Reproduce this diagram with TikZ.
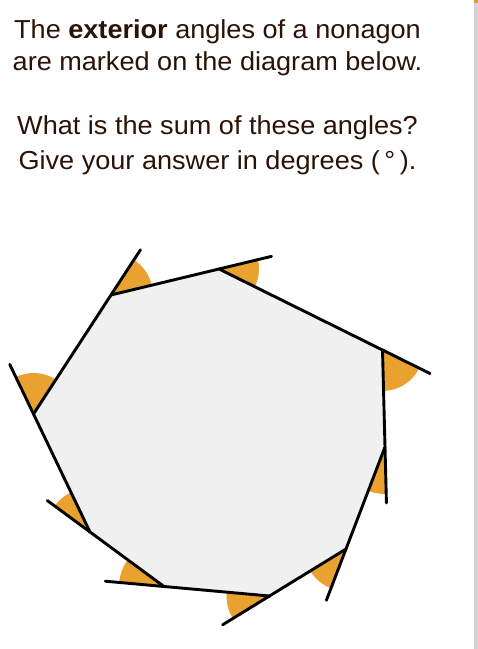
\documentclass[tikz,border=0pt]{standalone}
\usepackage{fontspec}
\setmainfont{Liberation Sans}
\usetikzlibrary{calc,angles}
\definecolor{txt}{HTML}{2B1206}
\definecolor{orng}{HTML}{E9A230}
\definecolor{polyfill}{HTML}{F0F0F0}
\definecolor{stripcol}{HTML}{D3D3D3}
\begin{document}
\begin{tikzpicture}[x=1pt,y=1pt,
  edge/.style={line width=2.9pt, line cap=round, line join=round, black},
  qtext/.style={font=\fontsize{26}{30}\selectfont, text=txt, anchor=base, inner sep=0pt, xscale=1.042},
  sector/.style={fill=orng}]
\useasboundingbox (0,0) rectangle (478,649);
\fill[white] (0,0) rectangle (478,649);
\fill[stripcol] (474,0) rectangle (478,649);
\fill[orng!80!brown] (474,646) rectangle (478,649);
% text
\node[qtext] (t1) at (217.5,610) {The \textbf{exterior} angles of a nonagon};
\node[qtext] (t2) at (217.5,578) {are marked on the diagram below.};
\node[qtext] (t3) at (217.5,514) {What is the sum of these angles?};
\node[qtext] (t4) at (217.5,479) {Give your answer in degrees (\,°\,).};
% vertices
\coordinate (V1) at (111,354);
\coordinate (V2) at (219,380);
\coordinate (V3) at (382.5,299);
\coordinate (V4) at (385,202);
\coordinate (V5) at (346,100);
\coordinate (V6) at (269.5,53);
\coordinate (V7) at (164,62.5);
\coordinate (V8) at (90,117);
\coordinate (V9) at (33.5,235);
% extension ends
\coordinate (E1) at ($(V1)!-54pt!(V9)$);
\coordinate (E2) at ($(V2)!-54pt!(V1)$);
\coordinate (E3) at ($(V3)!-53pt!(V2)$);
\coordinate (E4) at ($(V4)!-56pt!(V3)$);
\coordinate (E5) at ($(V5)!-55pt!(V4)$);
\coordinate (E6) at ($(V6)!-55pt!(V5)$);
\coordinate (E7) at ($(V7)!-59pt!(V6)$);
\coordinate (E8) at ($(V8)!-53pt!(V7)$);
\coordinate (E9) at ($(V9)!-55pt!(V8)$);
% polygon fill
\fill[polyfill] (V1)--(V2)--(V3)--(V4)--(V5)--(V6)--(V7)--(V8)--(V9)--cycle;
% sectors
\pic[sector, angle radius=42pt] {angle=V2--V1--E1};
\pic[sector, angle radius=40pt] {angle=V3--V2--E2};
\pic[sector, angle radius=41pt] {angle=V4--V3--E3};
\pic[sector, angle radius=47pt] {angle=V5--V4--E4};
\pic[sector, angle radius=42pt] {angle=V6--V5--E5};
\pic[sector, angle radius=43pt] {angle=V7--V6--E6};
\pic[sector, angle radius=45pt] {angle=V8--V7--E7};
\pic[sector, angle radius=44pt] {angle=V9--V8--E8};
\pic[sector, angle radius=41pt] {angle=V1--V9--E9};
% edges
\draw[edge] (V1)--(V2)--(V3)--(V4)--(V5)--(V6)--(V7)--(V8)--(V9)--cycle;
\draw[edge] (V1)--(E1);
\draw[edge] (V2)--(E2);
\draw[edge] (V3)--(E3);
\draw[edge] (V4)--(E4);
\draw[edge] (V5)--(E5);
\draw[edge] (V6)--(E6);
\draw[edge] (V7)--(E7);
\draw[edge] (V8)--(E8);
\draw[edge] (V9)--(E9);
\end{tikzpicture}
\end{document}
